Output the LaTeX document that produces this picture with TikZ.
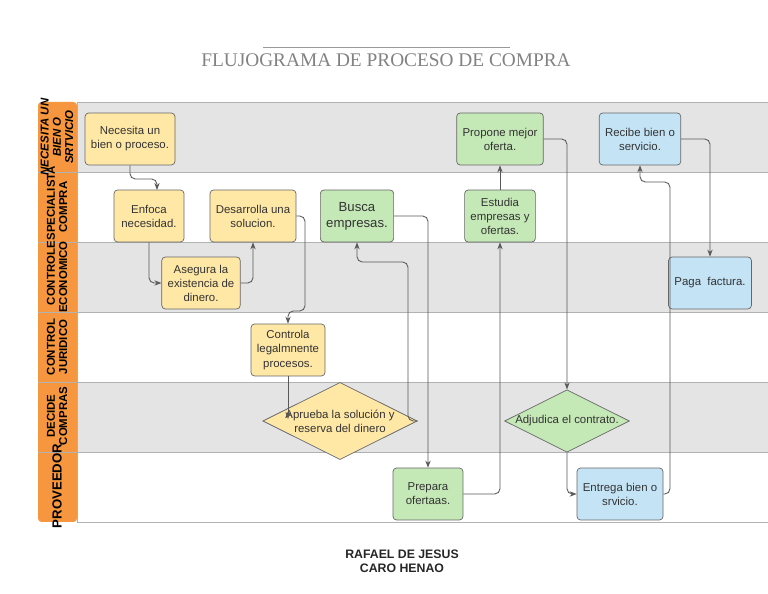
\documentclass[tikz,border=0pt]{standalone}
\usepackage{fontspec}
\setmainfont{Liberation Sans}
\usetikzlibrary{shapes.geometric, arrows.meta}
\definecolor{laneorange}{RGB}{246,151,63}
\definecolor{lanegray}{RGB}{228,228,228}
\definecolor{boxyellow}{RGB}{255,232,166}
\definecolor{boxgreen}{RGB}{197,232,183}
\definecolor{boxblue}{RGB}{196,228,246}
\definecolor{titlegray}{RGB}{130,130,130}
\begin{document}
\begin{tikzpicture}[x=0.02cm, y=-0.02cm]
\tikzset{
  box/.style={rectangle, rounded corners=2pt, draw=black!60, minimum width=1.4cm, minimum height=1.04cm, align=center, font=\fontsize{6.5}{8}\selectfont, text=black!80},
  dia/.style={diamond, aspect=2, draw=black!60, inner sep=0pt, minimum width=2.1cm, minimum height=1.1cm, align=center, font=\fontsize{6.5}{8}\selectfont, text=black!80},
  lab/.style={rotate=90, font=\bfseries\fontsize{6.5}{7}\selectfont, text=white, align=center},
  con/.style={draw=black!65, line width=.5pt, rounded corners=3pt, -{Stealth[length=4pt,width=3pt]}}
}
\useasboundingbox (0,0) rectangle (768,594);
% title
\draw[black!40, line width=.4pt] (263,47) -- (510,47);
\node (title) [font=\fontsize{11}{13}\selectfont\bfseries, text=titlegray] at (386,60) {\setmainfont{Liberation Serif}FLUJOGRAMA DE PROCESO DE COMPRA};
% lanes
\foreach \i/\c in {0/lanegray,1/white,2/lanegray,3/white,4/lanegray,5/white}
  \fill[\c] (77,102+70*\i) rectangle (768,172+70*\i);
\foreach \i in {1,...,5}
  \draw[black!30, line width=.4pt] (77,102+70*\i) -- (768,102+70*\i);
\draw[black!30, line width=.4pt] (768,102) -- (77,102) -- (77,522) -- (768,522);
\fill[laneorange, rounded corners=2pt] (38,102) rectangle (77,522);
\foreach \i in {1,...,5}
  \draw[black!30, line width=.4pt] (38,102+70*\i) -- (77,102+70*\i);
\node (l1) [lab, font=\bfseries\itshape\fontsize{6.5}{7}\selectfont, text=black] at (57,137) {NECESITA UN\\BIEN O\\SRTVICIO};
\node (l2) [lab, text=black] at (57,207) {ESPECIALISTA\\COMPRA};
\node (l3) [lab, text=black] at (57,277) {CONTROL\\ECONOMICO};
\node (l4) [lab, text=black] at (57,347) {CONTROL\\JURIDICO};
\node (l5) [lab, text=black] at (57,416) {DECIDE\\COMPRAS};
\node (l6) [lab, text=black, font=\bfseries\fontsize{7.5}{8}\selectfont] at (57,486) {PROVEEDOR};
% nodes
\node (n1) [box, fill=boxyellow] at (130,139) {Necesita un\\bien o proceso.};
\node (n2) [box, fill=boxyellow] at (149,216) {Enfoca\\necesidad.};
\node (n3) [box, fill=boxyellow] at (253,216) {Desarrolla una\\solucion.};
\node (n4) [box, fill=boxgreen, font=\fontsize{7.5}{9}\selectfont] at (357,216) {Busca\\empresas.};
\node (n5) [box, fill=boxgreen] at (500,216) {Estudia\\empresas y\\ofertas.};
\node (n6) [box, fill=boxgreen] at (500,139) {Propone mejor\\oferta.};
\node (n7) [box, fill=boxblue] at (640,139) {Recibe bien o\\servicio.};
\node (n8) [box, fill=boxyellow] at (201,283) {Asegura la\\existencia de\\dinero.};
\node (n9) [box, fill=boxblue] at (710,283) {Paga\ \ factura.};
\node (n10) [box, fill=boxyellow] at (288,350) {Controla\\legalmnente\\procesos.};
\node (d1) [dia, fill=boxyellow] at (340,421) {Aprueba la solución y\\reserva del dinero};
\node (d2) [dia, fill=boxgreen] at (567,421) {Adjudica el contrato.};
\node (n11) [box, fill=boxgreen] at (428,494) {Prepara\\ofertaas.};
\node (n12) [box, fill=boxblue] at (620,494) {Entrega bien o\\srvicio.};
% connectors
\draw[con] (n1.south) -- (130,179) -- (157,179) -- (157,190);
\draw[con] (n2.south) |- (n8.west);
\draw[con] (n8.east) -| (n3.south);
\draw[con] (n3.east) -- (305,216) -- (305,311) -- (288,311) -- (n10.north);
\draw[con] (n10.south) -- (288,419);
\draw[con] (d1.east) -- (408,421) -- (408,262) -- (357,262) -- (n4.south);
\draw[con] (n4.east) -| (n11.north);
\draw[con] (n11.east) -| (n5.south);
\draw[con] (n5.north) -- (n6.south);
\draw[con] (n6.east) -| (d2.north);
\draw[con] (d2.south) |- (n12.west);
\draw[con] (n12.east) -- (670,494) -- (670,182) -- (640,182) -- (n7.south);
\draw[con] (n7.east) -| (n9.north);
% footer
\node (footer) [font=\bfseries\fontsize{7}{8}\selectfont, align=center, text=black!85] at (402,561) {RAFAEL DE JESUS\\CARO HENAO};
\end{tikzpicture}
\end{document}
